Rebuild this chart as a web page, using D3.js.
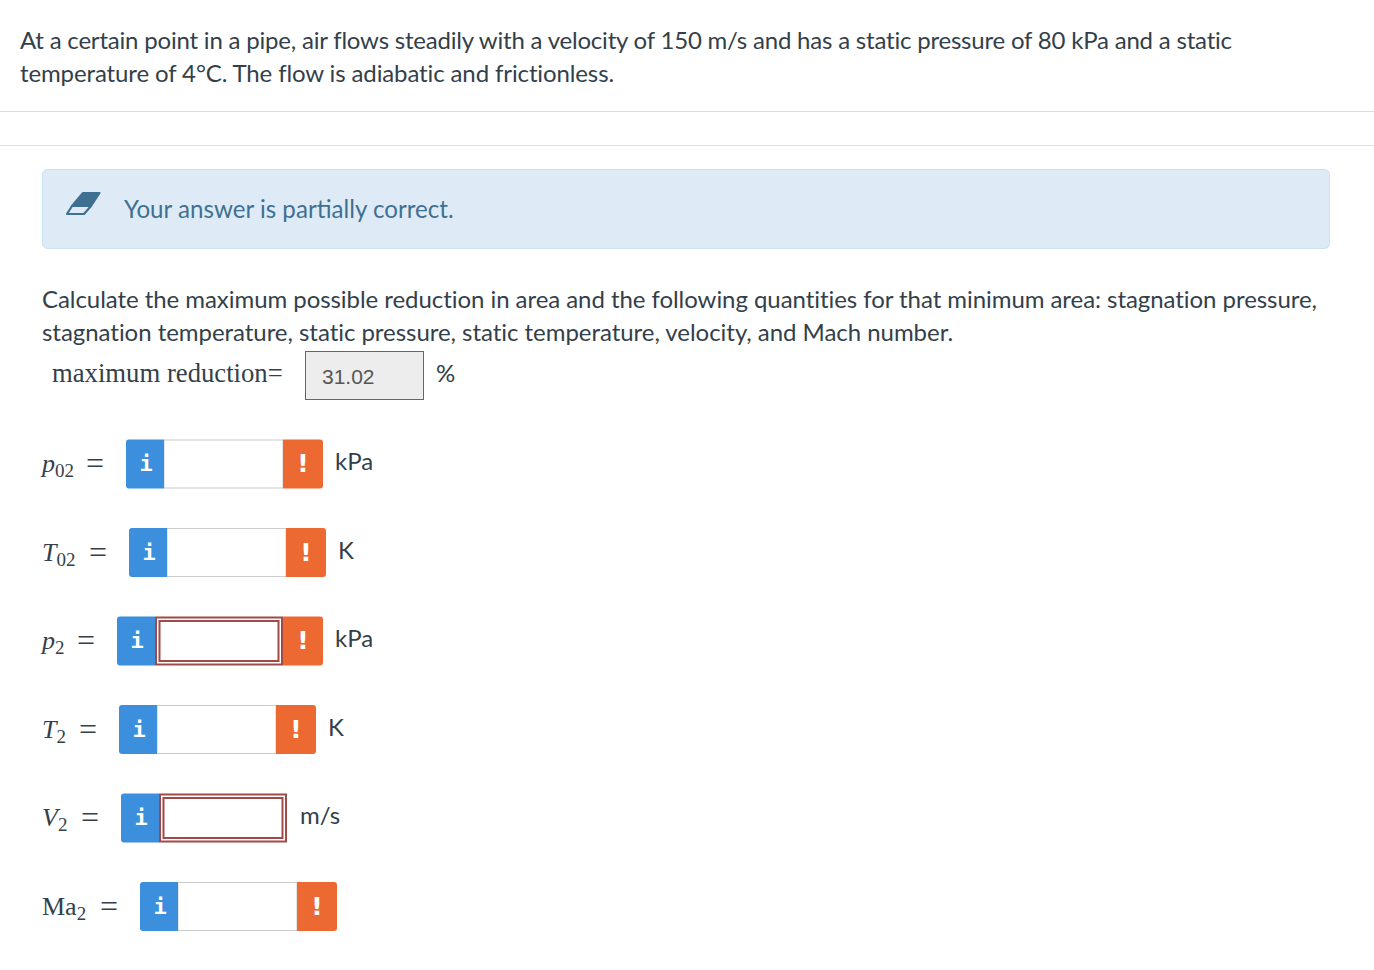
<!DOCTYPE html>
<html>
<head>
<meta charset="utf-8">
<script src="https://cdn.jsdelivr.net/npm/d3@7"></script>
<style>
  html, body { margin: 0; background: #fff; }
  svg { display: block; }
  text { font-family: Lato, sans-serif; fill: #333f4a; }
  .math { font-family: "Liberation Serif", serif; }
</style>
</head>
<body>
<svg id="chart" width="1374" height="970"></svg>
<script>
const introLines = [
  "At a certain point in a pipe, air flows steadily with a velocity of 150 m/s and has a static pressure of 80 kPa and a static",
  "temperature of 4°C. The flow is adiabatic and frictionless."
];
const bannerText = "Your answer is partially correct.";
const questionLines = [
  "Calculate the maximum possible reduction in area and the following quantities for that minimum area: stagnation pressure,",
  "stagnation temperature, static pressure, static temperature, velocity, and Mach number."
];
const reductionLabel = "maximum reduction=";
const reductionValue = "31.02";
const reductionUnit = "%";

// one entry per answer row
const symbols = ["p", "T", "p", "T", "V", "Ma"];
const subscripts = ["02", "02", "2", "2", "2", "2"];
const units = ["kPa", "K", "kPa", "K", "m/s", ""];
const wrongInput = [false, false, true, false, true, false];
const hasAlert = [true, true, true, true, false, true];

const svg = d3.select("#chart");
const blue = "#3b8fdc", orange = "#ec6a31", wrong = "#a04a48", grey = "#cccccc";

// top rules
svg.append("path").attr("d", "M0,111.5H1374").attr("stroke", "#d9dbdd").attr("fill", "none");
svg.append("path").attr("d", "M0,145.5H1374").attr("stroke", "#dfe1e3").attr("fill", "none");

svg.selectAll(".intro").data(introLines).enter().append("text")
  .attr("class", "intro")
  .attr("x", 20)
  .attr("y", (d, i) => 49 + i * 33)
  .style("font-size", "24px")
  .style("letter-spacing", (d, i) => i ? "-0.12px" : "-0.2px")
  .text(d => d);

// feedback banner
svg.append("rect")
  .attr("x", 42.5).attr("y", 169.5).attr("width", 1287).attr("height", 79).attr("rx", 5)
  .attr("fill", "#deebf6").attr("stroke", "#c6e3f0");
svg.append("path")
  .attr("d", "M83,193H99.5L91,206H72Z")
  .attr("fill", "#3f7091").attr("stroke", "#3f7091").attr("stroke-width", 2.2).attr("stroke-linejoin", "round");
svg.append("path")
  .attr("d", "M72,206H91L84,214H67Z")
  .attr("fill", "none").attr("stroke", "#3f7091").attr("stroke-width", 2.2).attr("stroke-linejoin", "round");
svg.append("text")
  .attr("x", 124).attr("y", 218)
  .style("font-size", "24.15px").style("fill", "#3f7091")
  .text(bannerText);

svg.selectAll(".question").data(questionLines).enter().append("text")
  .attr("class", "question")
  .attr("x", 42)
  .attr("y", (d, i) => 308 + i * 33)
  .style("font-size", "24px")
  .style("letter-spacing", (d, i) => i ? "-0.04px" : "-0.055px")
  .text(d => d);

// graded answer line
svg.append("text").attr("class", "math")
  .attr("x", 52).attr("y", 382)
  .style("font-size", "26.7px")
  .text(reductionLabel);
svg.append("rect")
  .attr("x", 305.5).attr("y", 351.5).attr("width", 118).attr("height", 48)
  .attr("fill", "#ededed").attr("stroke", "#55734f");
svg.append("text")
  .attr("x", 322).attr("y", 384)
  .style("font-family", "'Liberation Sans', sans-serif").style("font-size", "21px").style("fill", "#555")
  .text(reductionValue);
svg.append("text")
  .attr("x", 436).attr("y", 382)
  .style("font-size", "24px")
  .text(reductionUnit);

// answer rows
const rowY = d3.scalePoint().domain(d3.range(symbols.length)).range([464, 906.5]);
const infoW = 38, inputW = 119, wrongW = 128, alertW = 40, boxH = 49;

symbols.forEach((sym, i) => {
  const g = svg.append("g").attr("transform", `translate(0,${rowY(i)})`);

  const label = g.append("text").attr("class", "math").attr("x", 42).attr("y", 8).style("font-size", "26px");
  label.append("tspan").style("font-style", sym === "Ma" ? "normal" : "italic").text(sym);
  label.append("tspan").attr("dy", 5).style("font-size", "19px").text(subscripts[i]);

  // everything after the symbol flows from its measured width
  const labelEnd = 42 + label.node().getComputedTextLength();
  const x0 = Math.floor(labelEnd + (sym === "p" ? 52.5 : 54));

  g.append("text").attr("class", "math")
    .attr("x", x0 - 40).attr("y", 10)
    .style("font-size", "32px")
    .text("=");

  const w = wrongInput[i] ? wrongW : inputW;
  const xAlert = x0 + infoW + w;

  // input field first so the buttons sit on top of its ends
  if (wrongInput[i]) {
    g.append("rect").attr("x", x0 + infoW + 1).attr("y", -boxH / 2 + 1)
      .attr("width", w - 2).attr("height", boxH - 2)
      .attr("fill", "#fff").attr("stroke", wrong).attr("stroke-width", 2);
    g.append("rect").attr("x", x0 + infoW + 4.5).attr("y", -boxH / 2 + 4.5)
      .attr("width", w - 9).attr("height", boxH - 9)
      .attr("fill", "#fff").attr("stroke", wrong).attr("stroke-width", 2);
  } else {
    g.append("rect").attr("x", x0 + infoW).attr("y", -boxH / 2 + 0.5)
      .attr("width", w).attr("height", boxH - 1)
      .attr("fill", "#fff").attr("stroke", grey);
  }

  g.append("path")
    .attr("d", `M${x0 + infoW},${-boxH / 2}H${x0 + 3}a3,3 0 0 0 -3,3V${boxH / 2 - 3}a3,3 0 0 0 3,3H${x0 + infoW}Z`)
    .attr("fill", blue);
  g.append("text")
    .attr("x", x0 + infoW / 2 + 1).attr("y", 7)
    .attr("text-anchor", "middle")
    .style("font-family", "'DejaVu Sans Mono', monospace").style("font-weight", "bold").style("font-size", "22px").style("fill", "#fff")
    .text("i");

  let unitX = x0 + infoW + w + 13;
  if (hasAlert[i]) {
    g.append("path")
      .attr("d", `M${xAlert},${-boxH / 2}H${xAlert + alertW - 3}a3,3 0 0 1 3,3V${boxH / 2 - 3}a3,3 0 0 1 -3,3H${xAlert}Z`)
      .attr("fill", orange);
    g.append("text")
      .attr("x", xAlert + alertW / 2).attr("y", 8)
      .attr("text-anchor", "middle")
      .style("font-family", "'DejaVu Sans', sans-serif").style("font-weight", "bold").style("font-size", "25px").style("fill", "#fff")
      .text("!");
    unitX = xAlert + alertW + 12;
  }

  if (units[i]) {
    g.append("text")
      .attr("x", unitX).attr("y", 6)
      .style("font-size", "24px")
      .text(units[i]);
  }
});
</script>
</body>
</html>
